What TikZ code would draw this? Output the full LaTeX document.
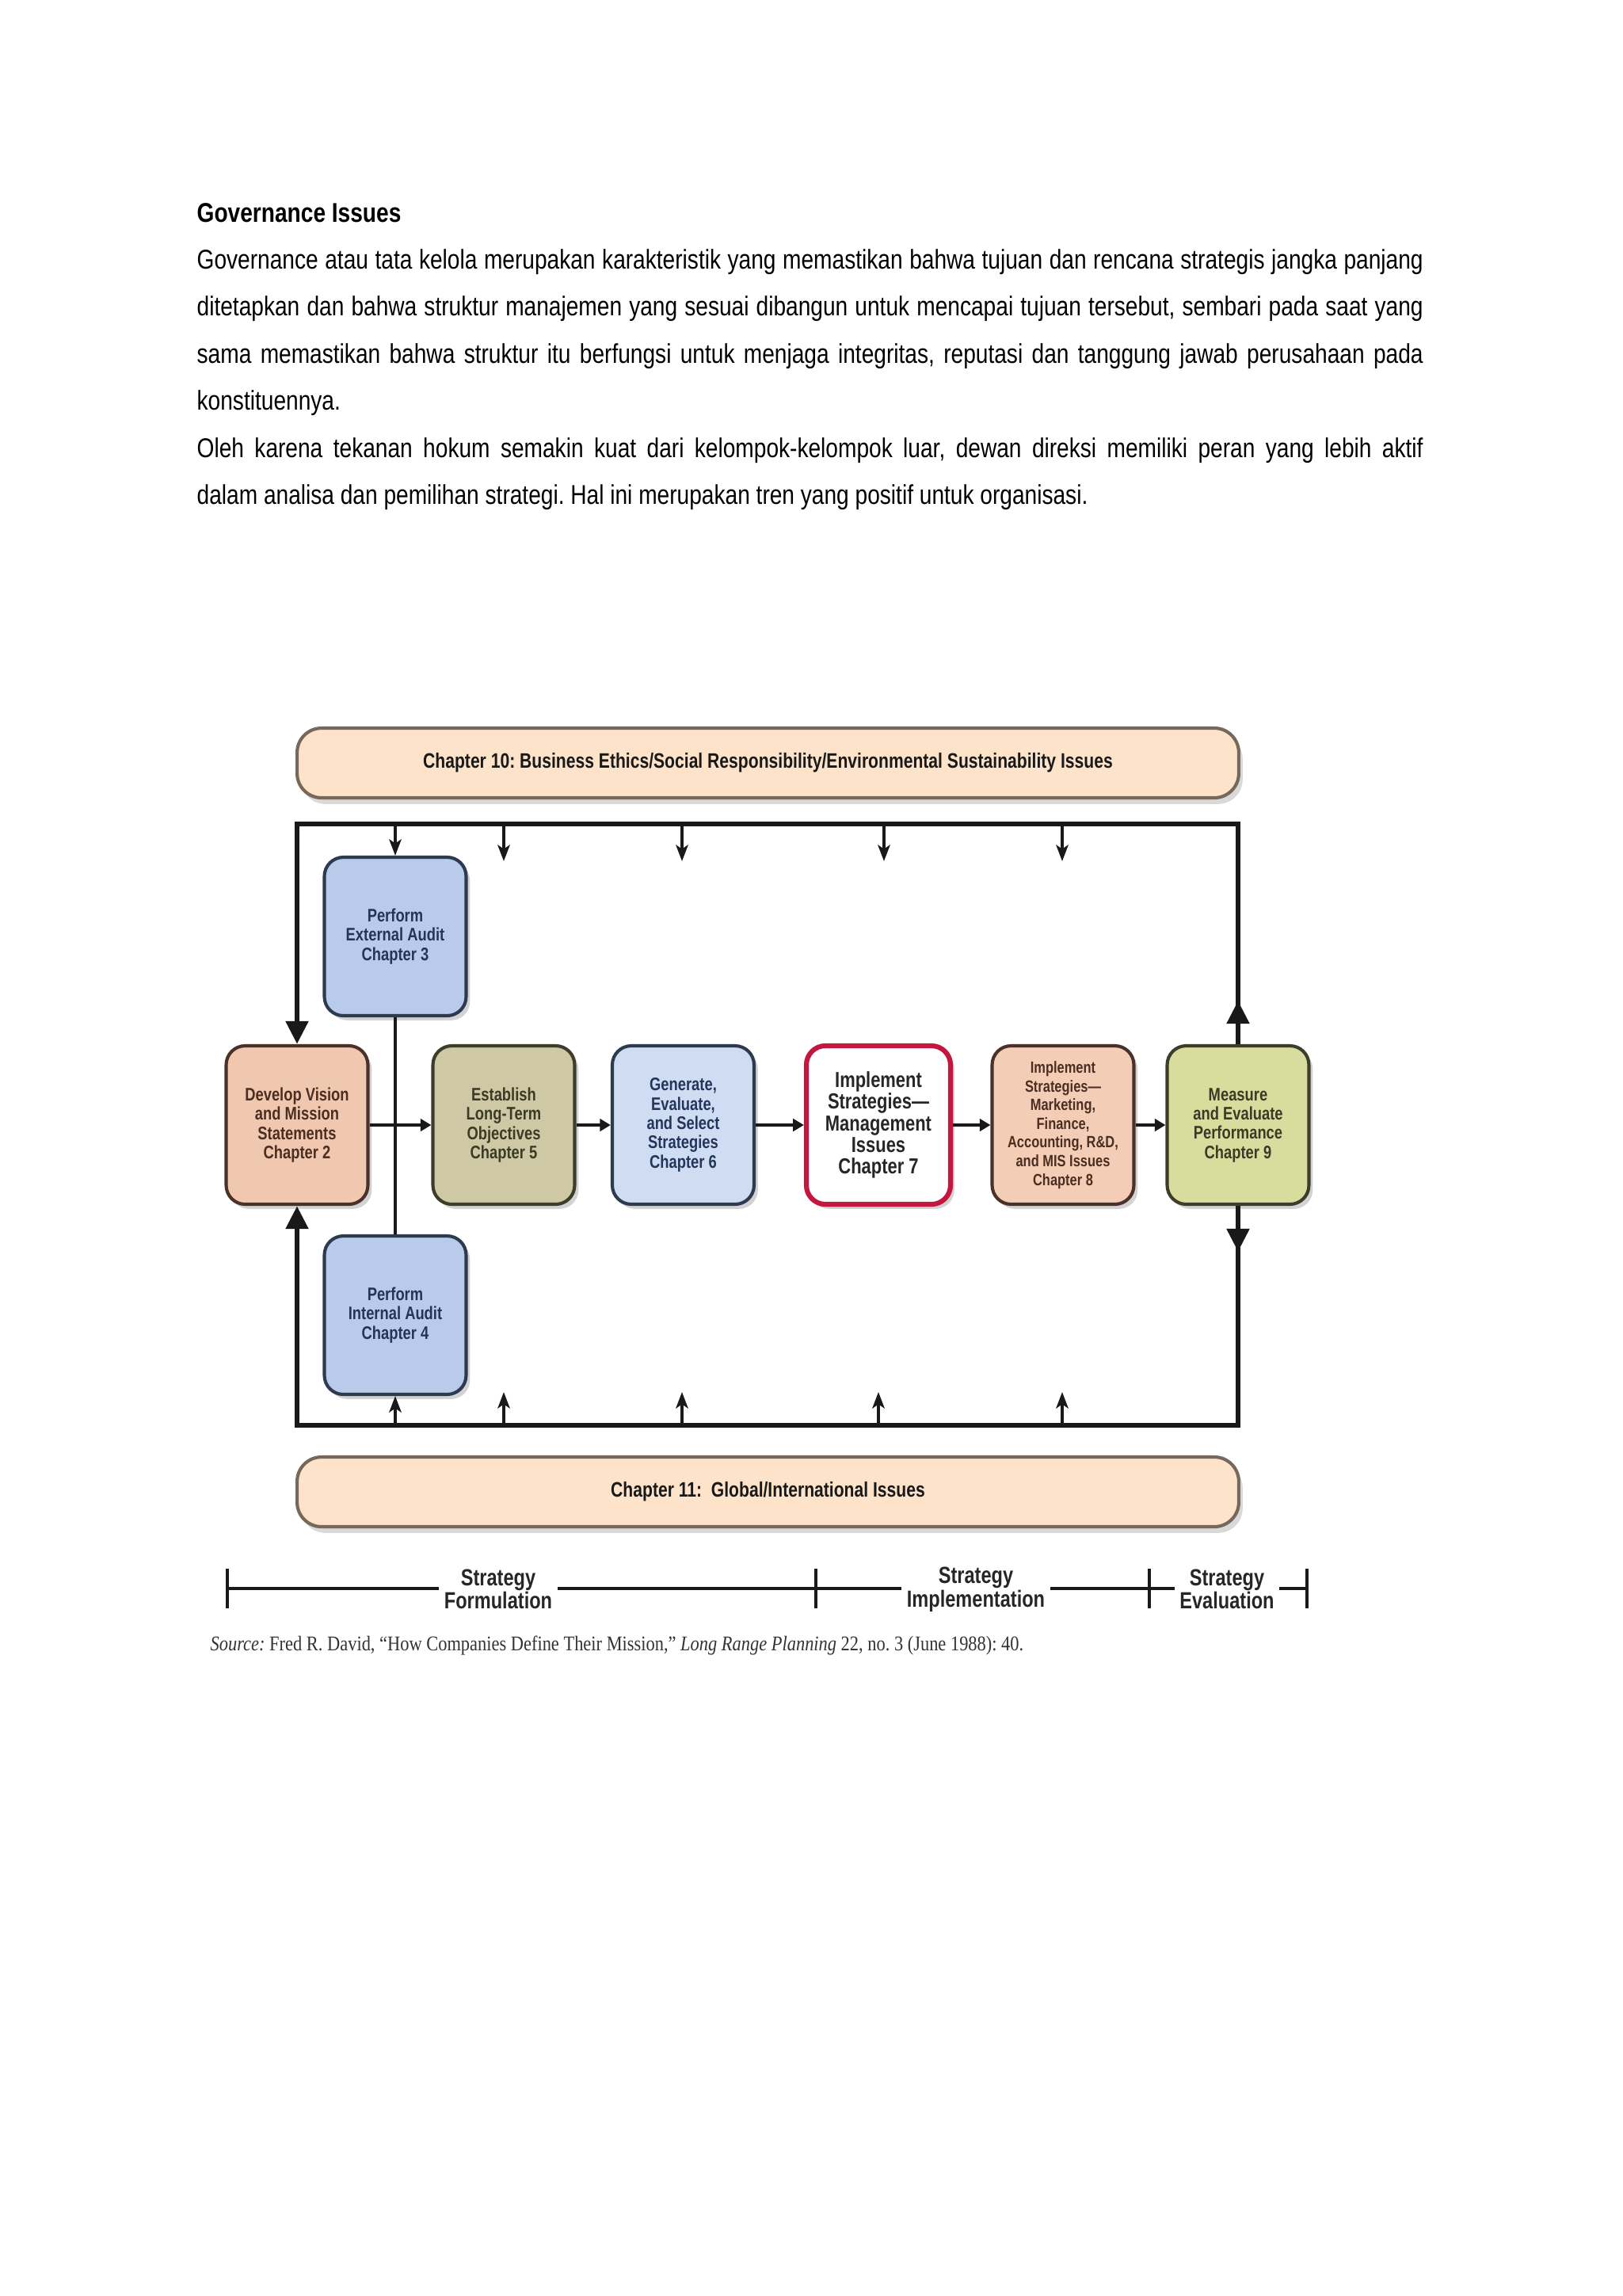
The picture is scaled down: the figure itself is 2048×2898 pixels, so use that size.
\documentclass[tikz,border=0pt]{standalone}
\usepackage{fontspec}
\setmainfont{Liberation Sans}[FakeStretch=0.82]
\newfontfamily\figfont{Liberation Sans}[FakeStretch=0.8]
\newfontfamily\srcfont{Liberation Serif}[FakeStretch=0.85]
\usepackage{tikz}
\usetikzlibrary{arrows.meta,shadows}
\tikzset{%
  bigtip/.tip={Triangle[length=8.5pt,width=8pt]},
  feedtip/.tip={Stealth[length=6pt,width=4.5pt,inset=1.5pt]},
  flowtip/.tip={Triangle[length=4pt,width=4.5pt]}
}
\definecolor{bannerfill}{HTML}{FCE3C9}
\definecolor{bannerline}{HTML}{76685B}
\definecolor{visionfill}{HTML}{F0C7AF}
\definecolor{objfill}{HTML}{CEC9A4}
\definecolor{stratfill}{HTML}{CFDCF1}
\definecolor{funcfill}{HTML}{F4CDB7}
\definecolor{evalfill}{HTML}{D8DD9D}
\definecolor{auditfill}{HTML}{B9CBEA}
\definecolor{brownline}{HTML}{4A3129}
\definecolor{oliveline}{HTML}{3D3D2C}
\definecolor{blueline}{HTML}{2E3A50}
\definecolor{redline}{HTML}{C3173F}
\definecolor{brownink}{HTML}{4B2E22}
\definecolor{oliveink}{HTML}{3B3A26}
\definecolor{blueink}{HTML}{23355A}
\frenchspacing

\begin{document}
\begin{tikzpicture}[x=0.010254cm,y=-0.010254cm,
  stagebox/.style={line width=1.2pt, rounded corners=7pt, minimum width=1.835cm,
    minimum height=2.051cm, inner sep=1pt, align=center,
    font=\figfont\bfseries\fontsize{6.7pt}{7.1pt}\selectfont,
    drop shadow={shadow xshift=0.5mm,shadow yshift=-0.6mm,opacity=0.35}},
  banner/.style={draw=bannerline, fill=bannerfill, line width=1.2pt, rounded corners=9pt,
    minimum width=12.19cm, minimum height=0.902cm, text=black!90,
    font=\figfont\bfseries\fontsize{7.7pt}{8pt}\selectfont,
    drop shadow={shadow xshift=0.5mm,shadow yshift=-0.8mm,opacity=0.3}},
  loopline/.style={line width=2pt, draw=black!90},
  flow/.style={line width=1.2pt, draw=black!90, -flowtip},
  feed/.style={line width=1pt, draw=black!90, -feedtip},
  phase/.style={line width=0.9pt, draw=black!90},
  phaselabel/.style={fill=white, inner xsep=2pt, inner ysep=0pt, align=center,
    font=\figfont\bfseries\fontsize{8.6pt}{8.6pt}\selectfont, text=black!85}]
\useasboundingbox (0,0) rectangle (2048,2898);

% text above the figure
\node[anchor=base west, text width=15.874cm, align=justify, inner sep=0pt,
  font=\fontsize{10pt}{17.34pt}\selectfont] (para) at (248,280) {%
\hyphenpenalty=10000
{\bfseries Governance Issues}\par
Governance atau tata kelola merupakan karakteristik yang memastikan bahwa tujuan dan rencana strategis jangka panjang\linebreak
ditetapkan dan bahwa struktur manajemen yang sesuai dibangun untuk mencapai tujuan tersebut, sembari pada saat yang\linebreak
sama memastikan bahwa struktur itu berfungsi untuk menjaga integritas, reputasi dan tanggung jawab perusahaan pada\linebreak
konstituennya.\par
Oleh karena tekanan hokum semakin kuat dari kelompok-kelompok luar, dewan direksi memiliki peran yang lebih aktif\linebreak
dalam analisa dan pemilihan strategi. Hal ini merupakan tren yang positif untuk organisasi.};

% banners
\node[banner] (ethics) at (969.5,963) {Chapter 10: Business Ethics/Social Responsibility/Environmental Sustainability Issues};
\node[banner] (global) at (969.5,1883) {Chapter 11:\ \ Global/International Issues};

% corners of the feedback loop
\coordinate (tl) at (375,1040);
\coordinate (tr) at (1563,1040);
\coordinate (bl) at (375,1799);
\coordinate (br) at (1563,1799);

% stages
\node[stagebox, draw=brownline, fill=visionfill, text=brownink] (vision) at (375,1420) {Develop Vision\\and Mission\\Statements\\Chapter 2};
\node[stagebox, draw=blueline, fill=auditfill, text=blueink] (external) at (499,1182) {Perform\\External Audit\\Chapter 3};
\node[stagebox, draw=blueline, fill=auditfill, text=blueink] (internal) at (499,1660) {Perform\\Internal Audit\\Chapter 4};
\node[stagebox, draw=oliveline, fill=objfill, text=oliveink] (objectives) at (636,1420) {Establish\\Long-Term\\Objectives\\Chapter 5};
\node[stagebox, draw=blueline, fill=stratfill, text=blueink] (strategies) at (862.5,1420) {Generate,\\Evaluate,\\and Select\\Strategies\\Chapter 6};
\node[stagebox, draw=redline, fill=white, text=black!85, line width=1.8pt, minimum width=1.866cm,
  font=\figfont\bfseries\fontsize{8pt}{8pt}\selectfont] (mgmt) at (1109,1420) {Implement\\Strategies\textemdash\\Management\\Issues\\Chapter 7};
\node[stagebox, draw=brownline, fill=funcfill, text=brownink,
  font=\figfont\bfseries\fontsize{6pt}{6.9pt}\selectfont] (functional) at (1342,1420) {Implement\\Strategies\textemdash\\Marketing,\\Finance,\\Accounting, R\&D,\\and MIS Issues\\Chapter 8};
\node[stagebox, draw=oliveline, fill=evalfill, text=oliveink] (evaluate) at (1563,1420) {Measure\\and Evaluate\\Performance\\Chapter 9};

% main flow
\draw[line width=1pt, black!90] (external.south) -- (internal.north);
\draw[flow] (vision.east) -- (objectives.west);
\draw[flow] (objectives.east) -- (strategies.west);
\draw[flow] (strategies.east) -- (mgmt.west);
\draw[flow] (mgmt.east) -- (functional.west);
\draw[flow] (functional.east) -- (evaluate.west);

% feedback loop
\coordinate (upmark) at (1563,1263);
\coordinate (downmark) at (1563,1580);
\draw[loopline, bigtip-] (vision.north) -- (tl) -- (tr) -- (evaluate.north);
\draw[loopline, -bigtip] (evaluate.north) -- (upmark);
\draw[loopline, bigtip-] (vision.south) -- (bl) -- (br) -- (evaluate.south);
\draw[loopline, -bigtip] (evaluate.south) -- (downmark);

% small arrows from the loop
\draw[feed] (external.north |- tl) -- (external.north);
\draw[feed] (internal.south |- bl) -- (internal.south);
\foreach \xx [count=\i] in {636,861,1116,1341} {
  \coordinate (tin\i) at (\xx,1040);
  \coordinate (tend\i) at (\xx,1087);
  \draw[feed] (tin\i) -- (tend\i);
}
\foreach \xx [count=\i] in {636,861,1109,1341} {
  \coordinate (bin\i) at (\xx,1799);
  \coordinate (bend\i) at (\xx,1757);
  \draw[feed] (bin\i) -- (bend\i);
}

% phases
\coordinate (f0) at (287,2005);
\coordinate (f1) at (1030,2005);
\coordinate (f2) at (1451,2005);
\coordinate (f3) at (1650,2005);
\draw[phase] (f0) -- (f3);
\foreach \t in {f0,f1,f2,f3}
  \draw[phase] ([yshift=0.256cm]\t) -- ([yshift=-0.256cm]\t);
\node[phaselabel] (formulation) at (629,2006) {Strategy\\Formulation};
\node[phaselabel] (implementation) at (1232,2006) {Strategy\\Implementation};
\node[phaselabel] (evaluation) at (1549,2006) {Strategy\\Evaluation};

\node[anchor=west, inner sep=0pt, text=black!80, font=\srcfont\fontsize{7.7pt}{8pt}\selectfont] (source) at (265,2077)
  {\textit{Source:} Fred R. David, “How Companies Define Their Mission,” \textit{Long Range Planning} 22, no. 3 (June 1988): 40.};
\end{tikzpicture}
\end{document}
